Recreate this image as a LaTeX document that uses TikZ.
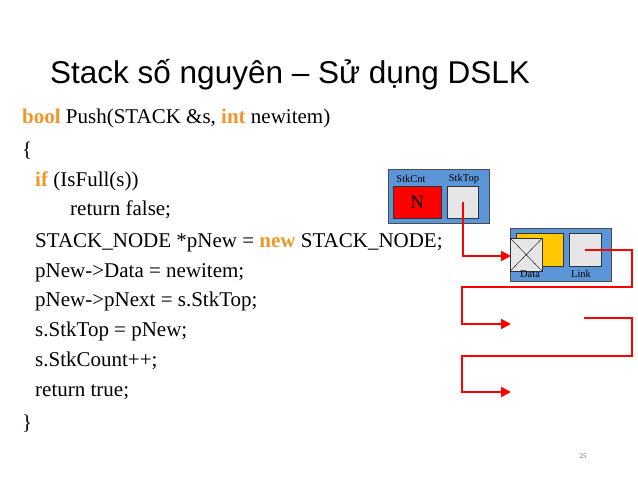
\documentclass[tikz,border=0pt]{standalone}
\usepackage{fontspec}
\setmainfont{Liberation Serif}
\newfontfamily\titlefont{Liberation Sans}
\usetikzlibrary{arrows.meta}
\definecolor{kwcolor}{RGB}{240,150,40}
\definecolor{boxblue}{RGB}{90,150,215}
\definecolor{cellgray}{RGB}{230,230,230}
\definecolor{cellyellow}{RGB}{255,200,0}
\newcommand{\kw}[1]{\textcolor{kwcolor}{\textbf{#1}}}
\begin{document}
\begin{tikzpicture}[x=1pt,y=-1pt,
	codeline/.style={anchor=base west,inner sep=0pt,font=\fontsize{21}{24}\selectfont},
	% boxes of the list
	frame/.style={draw=black!70,fill=boxblue,anchor=north west,inner sep=0pt},
	cell/.style={draw=black!80,anchor=north west,inner sep=0pt},
	small/.style={inner sep=0pt,font=\fontsize{10.5}{11}\selectfont},
	link/.style={draw=red,line width=2pt,-{Triangle[length=10pt,width=10pt]}},
	linkend/.style={draw=red,line width=2pt}
	]
	\useasboundingbox (0,0) rectangle (638,478);

	\node (title) [anchor=base west,inner sep=0pt,font=\titlefont\fontsize{31.5}{34}\selectfont] at (50,84) {Stack số nguyên – Sử dụng DSLK};

	\node (l1) [codeline] at (22,124) {\kw{bool} Push(STACK \&s, \kw{int} newitem)};
	\node (l2) [codeline] at (22,157) {\{};
	\node (l3) [codeline] at (35,187) {\kw{if} (IsFull(s))};
	\node (l4) [codeline] at (70,216) {return false;};
	\node (l5) [codeline] at (35,248) {STACK\_NODE *pNew = \kw{new} STACK\_NODE;};
	\node (l6) [codeline] at (35,278) {pNew->Data = newitem;};
	\node (l7) [codeline] at (35,307) {pNew->pNext = s.StkTop;};
	\node (l8) [codeline] at (35,337) {s.StkTop = pNew;};
	\node (l9) [codeline] at (35,367) {s.StkCount++;};
	\node (l10) [codeline] at (35,397) {return true;};
	\node (l11) [codeline] at (22,430) {\}};

	\node (page) [small,font=\fontsize{7}{8}\selectfont,text=black!60] at (583,456) {25};

	% stack header
	\node (stack) [frame,minimum width=101pt,minimum height=54pt] at (388,169) {};
	\node (cnt) [cell,fill=red,minimum width=48pt,minimum height=32pt,font=\fontsize{19}{20}\selectfont] at (393,186) {N};
	\node (top) [cell,fill=cellgray,minimum width=31pt,minimum height=32pt] at (447,186) {};
	\node (cntlbl) [small] at (411,179) {StkCnt};
	\node (toplbl) [small] at (464,179) {StkTop};

	% new node
	\node (elem) [frame,minimum width=101pt,minimum height=53pt] at (510,228) {};
	\node (data) [cell,fill=cellyellow,minimum width=47pt,minimum height=33pt] at (516,233) {};
	\node (next) [cell,fill=cellgray,minimum width=32pt,minimum height=33pt] at (569,233) {};
	\node (cross) [cell,fill=cellgray,minimum width=32pt,minimum height=33pt] at (510,238) {};
	\draw (cross.north west) -- (cross.south east) (cross.north east) -- (cross.south west);
	\node (datalbl) [small] at (530,274) {Data};
	\node (nextlbl) [small] at (581,274) {Link};

	\coordinate (in1) at (511,256);
	\coordinate (in2) at (511,324);
	\coordinate (in3) at (511,392);
	\coordinate (tail2) at (584,318);

	\draw[link] (top.center) |- (in1);
	\draw[link] (next.center) -- ++(47,0) |- (462,287) |- (in2);
	\draw[link] (tail2) -- (632,318) |- (462,356) |- (in3);
\end{tikzpicture}
\end{document}
